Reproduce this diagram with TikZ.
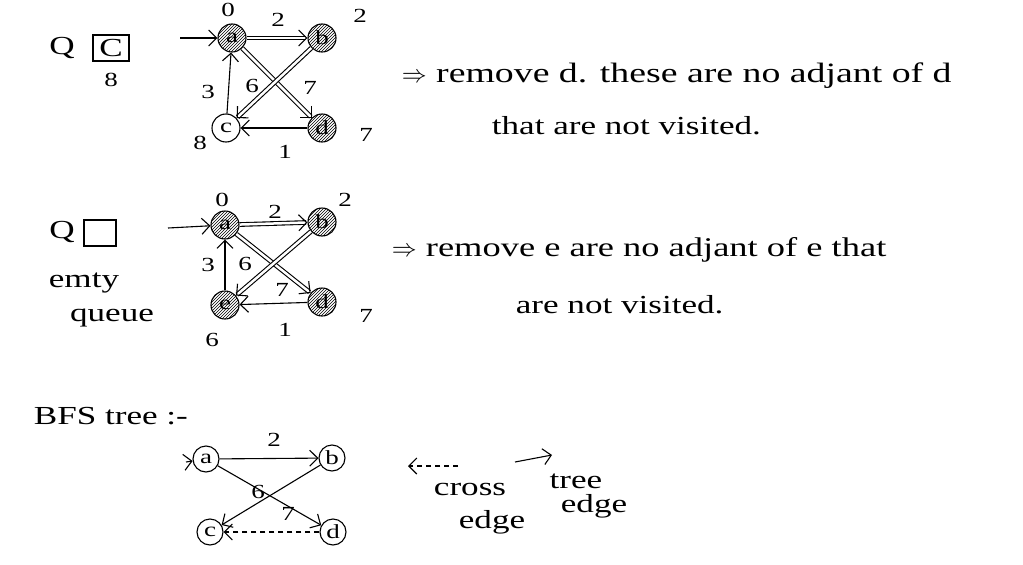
\documentclass[tikz,border=0pt]{standalone}
\usepackage{fontspec}
\setmainfont{Liberation Serif}[FakeStretch=1.35]
\usetikzlibrary{patterns,arrows.meta}
\begin{document}
\begin{tikzpicture}[x=1pt,y=-1pt,font=\fontsize{26}{30}\selectfont,line width=1.1pt,
  vert/.style={circle,draw,minimum size=28pt,inner sep=0pt,font=\fontsize{20}{22}\selectfont},
  hat/.style={vert,pattern=north east lines},
  arr/.style={-{Straight Barb[length=8pt]}},
  dsh/.style={dash pattern=on 5pt off 4pt},
  dbl/.style={-{Straight Barb[length=8pt]},double,double distance=2.5pt},
  lbl/.style={font=\fontsize{20}{22}\selectfont}]
\useasboundingbox (0,0) rectangle (1023,565);
% ---------- top
\node at (62,48) {Q}; \node[draw,minimum width=36pt,minimum height=26pt,inner sep=0pt] (q1) at (111,48) {C};
\node[lbl] at (111,80) {8};
\node[hat] (a1) at (232,38) {a}; \node[hat] (b1) at (322,38) {b};
\node[vert] (c1) at (226,128) {c}; \node[hat] (d1) at (322,128) {d};
\coordinate (s1) at (180,38);
\draw[arr] (s1) -- (a1);
\draw[dbl] (a1) -- (b1); \draw[dbl] (a1) -- (d1); \draw[dbl] (b1) -- (c1);
\draw[arr] (c1) -- (a1); \draw[arr] (d1) -- (c1);
\node[lbl] at (228,10) {0}; \node[lbl] at (278,20) {2}; \node[lbl] at (360,16) {2};
\node[lbl] at (208,92) {3}; \node[lbl] at (252,86) {6}; \node[lbl] at (310,88) {7};
\node[lbl] at (200,143) {8}; \node[lbl] at (285,152) {1}; \node[lbl] at (366,135) {7};
\node[anchor=west,font=\fontsize{28}{32}\selectfont] at (398,76) {$\Rightarrow$ remove d. these are no adjant of d};
\node[anchor=west] at (488,126) {that are not visited.};
% ---------- middle
\node at (62,232) {Q}; \node[draw,minimum width=32pt,minimum height=26pt] (q2) at (100,233) {};
\node at (84,283) {emty}; \node at (112,318) {queue};
\node[hat] (a2) at (225,225) {a}; \node[hat] (b2) at (322,222) {b};
\node[hat] (c2) at (225,305) {e}; \node[hat] (d2) at (322,302) {d};
\coordinate (s2) at (168,228);
\draw[arr] (s2) -- (a2);
\draw[dbl] (a2) -- (b2); \draw[dbl] (a2) -- (d2); \draw[dbl] (b2) -- (c2);
\draw[arr] (c2) -- (a2); \draw[arr] (d2) -- (c2);
\node[lbl] at (222,200) {0}; \node[lbl] at (275,212) {2}; \node[lbl] at (345,200) {2};
\node[lbl] at (208,265) {3}; \node[lbl] at (245,264) {6}; \node[lbl] at (282,290) {7};
\node[lbl] at (285,330) {1}; \node[lbl] at (366,316) {7}; \node[lbl] at (212,340) {6};
\node[anchor=west,font=\fontsize{27}{30}\selectfont] at (388,250) {$\Rightarrow$ remove e are no adjant of e that};
\node[anchor=west] at (512,305) {are not visited.};
% ---------- bottom
\node[anchor=west] at (30,416) {BFS tree :-};
\node[vert,minimum size=26pt] (a3) at (206,459) {a}; \node[vert,minimum size=26pt] (b3) at (332,458) {b};
\node[vert,minimum size=26pt] (c3) at (210,532) {c}; \node[vert,minimum size=26pt] (d3) at (333,532) {d};
\coordinate (s3) at (186,462);
\draw[arr] (s3) -- (a3);
\draw[arr] (a3) -- (b3); \draw[arr] (a3) -- (d3); \draw[arr] (b3) -- (c3);
\draw[arr,dsh] (d3) -- (c3);
\node[lbl] at (274,440) {2}; \node[lbl] at (258,492) {6}; \node[lbl] at (288,514) {7};
\coordinate (l1a) at (458,466); \coordinate (l1b) at (408,466);
\coordinate (l2a) at (515,462); \coordinate (l2b) at (552,455);
\draw[arr,dsh] (l1a) -- (l1b); \draw[arr] (l2a) -- (l2b);
\node at (470,489) {cross}; \node at (492,522) {edge};
\node at (576,481) {tree}; \node at (594,506) {edge};
\end{tikzpicture}
\end{document}
